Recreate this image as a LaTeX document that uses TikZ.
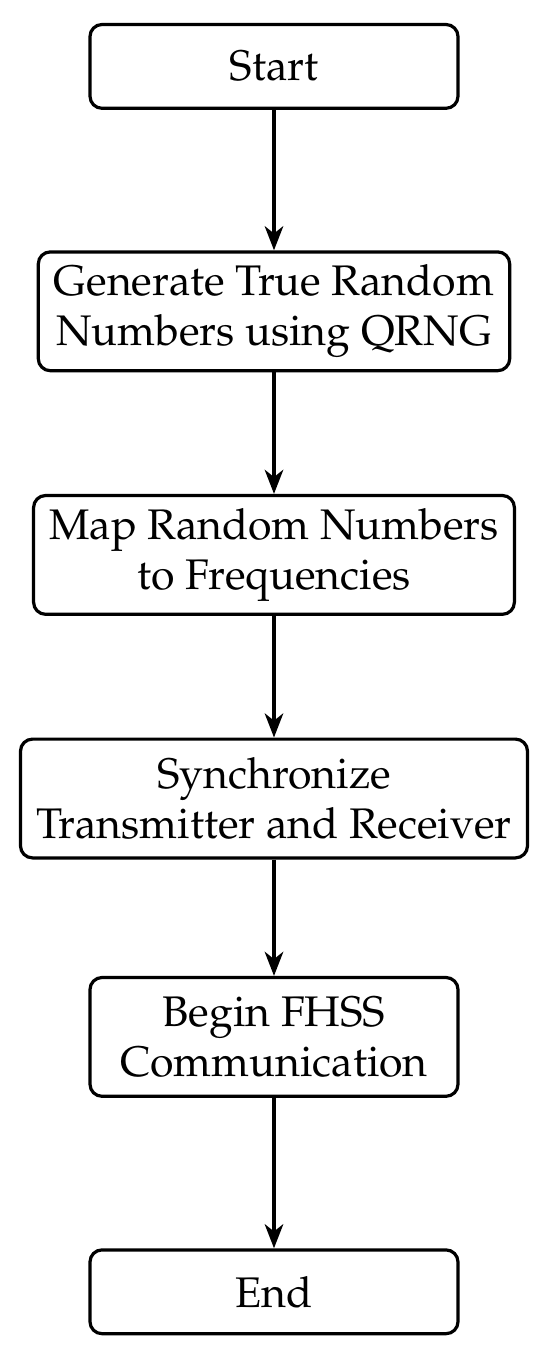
\documentclass[tikz,border=0pt]{standalone}
\usepackage[T1]{fontenc}
\usepackage{mathpazo}
\usepackage{tikz}
\usetikzlibrary{arrows,arrows.meta,shapes,positioning}

\begin{document}
\begin{tikzpicture} [>={Stealth[length=6pt,width=4.6pt,inset=1.8pt]}, thick,
	   every node/.style={font=\fontsize{10.7pt}{12.4pt}\selectfont},
	   stepbox/.style = {rectangle, rounded corners=3pt, draw=black, align=center,
	                     minimum width=92pt, minimum height=20.95pt, inner xsep=3.9pt, inner ysep=3pt},
	   twoline/.style = {stepbox, minimum height=29.7pt},
	   flow/.style = {->, line width=1pt}]
	\useasboundingbox (-68.5pt,16.6pt) rectangle (69pt,-320.9pt);
	%% Steps
	\node [stepbox] (start) {Start};
	\node [twoline,below=35.1pt of start] (qrng) {Generate True Random\\Numbers using QRNG};
	\node [twoline,below=30.4pt of qrng] (map) {Map Random Numbers\\to Frequencies};
	\node [twoline,below=30.4pt of map] (sync) {Synchronize\\Transmitter and Receiver};
	\node [twoline,below=29.1pt of sync] (fhss) {Begin FHSS\\Communication};
	\node [stepbox,below=37.6pt of fhss] (end) {End};

	%% Arrows
	\draw[flow] (start) -- (qrng);
	\draw[flow] (qrng) -- (map);
	\draw[flow] (map) -- (sync);
	\draw[flow] (sync) -- (fhss);
	\draw[flow] (fhss) -- (end);
\end{tikzpicture}
\end{document}
